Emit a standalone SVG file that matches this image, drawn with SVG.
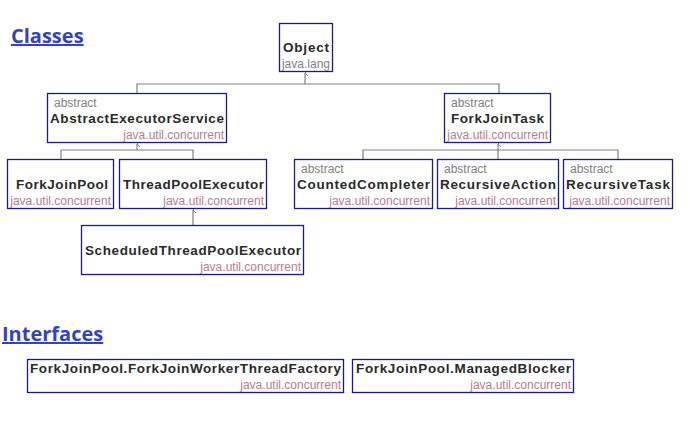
<svg xmlns="http://www.w3.org/2000/svg" width="690" height="422" viewBox="0 0 690 422">
<style>
rect{fill:#fff;stroke:#1a1a8c;stroke-width:1.3}
.n{font:bold 13.5px "Liberation Sans",Arial,sans-serif;fill:#2a2a2a}
.a{font:12px "Liberation Sans",Arial,sans-serif;fill:#808080}
.p{font:12px "Liberation Sans",Arial,sans-serif;fill:#b77c8c;text-anchor:end}
.h{font:bold 20px "Open Sans","DejaVu Sans",sans-serif;fill:#3344bb;text-decoration:underline}
.c{fill:none;stroke:#808080;stroke-width:1.2}
</style>
<defs><marker id="ar" markerWidth="6" markerHeight="6" refX="3" refY="1" orient="auto-start-reverse" markerUnits="userSpaceOnUse"><path d="M0,4 L3,1 L6,4" fill="none" stroke="#808080"/></marker></defs>
<text class="h" x="11" y="43">Classes</text>
<text class="h" x="2" y="341">Interfaces</text>
<g id="connectors">
<path class="c" d="M137,93 V84 H499 V93"/><path class="c" d="M305,84 V73" marker-end="url(#ar)"/>
<path class="c" d="M61,159 V150 H193 V159"/><path class="c" d="M137,150 V144" marker-end="url(#ar)"/>
<path class="c" d="M193,225 V210" marker-end="url(#ar)"/>
<path class="c" d="M363,159 V150 H618 V159"/><path class="c" d="M498,159 V144" marker-end="url(#ar)"/>
</g>
<g id="object"><rect x="279.5" y="23.5" width="53" height="48"/><text class="n" x="283" y="52" textLength="46">Object</text><text class="p" x="330" y="68" style="fill:#808080">java.lang</text></g>
<g id="aes"><rect x="47.5" y="93.5" width="179" height="49"/><text class="a" x="54" y="107">abstract</text><text class="n" x="50" y="123" textLength="174">AbstractExecutorService</text><text class="p" x="224" y="139">java.util.concurrent</text></g>
<g id="fjt"><rect x="444.5" y="93.5" width="106" height="49"/><text class="a" x="451" y="107">abstract</text><text class="n" x="451" y="123" textLength="93">ForkJoinTask</text><text class="p" x="548" y="139">java.util.concurrent</text></g>
<g id="fjp"><rect x="7.5" y="159.5" width="106" height="49"/><text class="n" x="16" y="189" textLength="92">ForkJoinPool</text><text class="p" x="111" y="205">java.util.concurrent</text></g>
<g id="tpe"><rect x="119.5" y="159.5" width="147" height="49"/><text class="n" x="123" y="189" textLength="141">ThreadPoolExecutor</text><text class="p" x="264" y="205">java.util.concurrent</text></g>
<g id="stpe"><rect x="81.5" y="225.5" width="222" height="49"/><text class="n" x="85" y="255" textLength="216">ScheduledThreadPoolExecutor</text><text class="p" x="301" y="271">java.util.concurrent</text></g>
<g id="cc"><rect x="294.5" y="159.5" width="138" height="49"/><text class="a" x="301" y="173">abstract</text><text class="n" x="297" y="189" textLength="133">CountedCompleter</text><text class="p" x="430" y="205">java.util.concurrent</text></g>
<g id="ra"><rect x="437.5" y="159.5" width="121" height="49"/><text class="a" x="444" y="173">abstract</text><text class="n" x="440" y="189" textLength="116">RecursiveAction</text><text class="p" x="556" y="205">java.util.concurrent</text></g>
<g id="rt"><rect x="563.5" y="159.5" width="109" height="49"/><text class="a" x="570" y="173">abstract</text><text class="n" x="566" y="189" textLength="104">RecursiveTask</text><text class="p" x="670" y="205">java.util.concurrent</text></g>
<g id="fjwtf"><rect x="27.5" y="359.5" width="316" height="33"/><text class="n" x="30" y="373" textLength="311">ForkJoinPool.ForkJoinWorkerThreadFactory</text><text class="p" x="341" y="389">java.util.concurrent</text></g>
<g id="mb"><rect x="352.5" y="359.5" width="221" height="33"/><text class="n" x="356" y="373" textLength="215">ForkJoinPool.ManagedBlocker</text><text class="p" x="571" y="389">java.util.concurrent</text></g>
</svg>
